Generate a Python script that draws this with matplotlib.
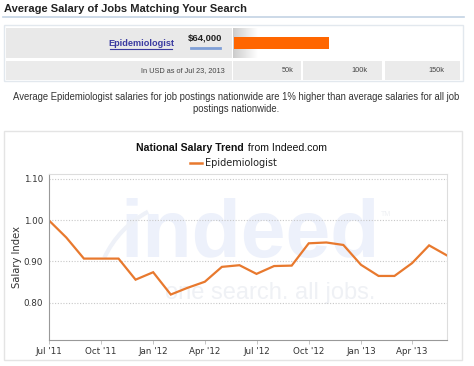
import numpy as np
import pandas as pd
import matplotlib
matplotlib.use("Agg")
import matplotlib.pyplot as plt
from matplotlib.patches import Rectangle, Arc

# data
job_title = "Epidemiologist"
salary = 64000
scale_ticks = [50000, 100000, 150000]
scale_labels = ["50k", "100k", "150k"]
months = pd.date_range("2011-07-01", periods=24, freq="MS")
salary_index = [1.000, 0.958, 0.907, 0.907, 0.907, 0.856, 0.874, 0.820,
                0.836, 0.851, 0.887, 0.891, 0.870, 0.889, 0.890, 0.944,
                0.946, 0.940, 0.892, 0.865, 0.865, 0.896, 0.939, 0.915]
tick_dates = pd.date_range("2011-07-01", periods=8, freq="3MS")
tick_labels = ["Jul '11", "Oct '11", "Jan '12", "Apr '12",
               "Jul '12", "Oct '12", "Jan '13", "Apr '13"]
y_ticks = [0.80, 0.90, 1.00, 1.10]

W, H = 474, 366
ORANGE = "#e8792e"
SANS = "Liberation Sans"


def box(x0, y0, x1, y1):
    return [x0 / W, 1 - y1 / H, (x1 - x0) / W, (y1 - y0) / H]


fig = plt.figure(figsize=(W / 100, H / 100), dpi=100)
page = fig.add_axes([0, 0, 1, 1])
page.set_xlim(0, W)
page.set_ylim(H, 0)
page.axis("off")

# header
page.text(4, 8.5, "Average Salary of Jobs Matching Your Search", fontsize=8.0,
          fontweight="bold", family=SANS, color="#222222", va="center")
page.plot([3, 464], [16.5, 16.5], color="#c3d3e4", lw=1.2)

# salary panel
page.add_patch(Rectangle((4, 25), 459, 56, fc="white", ec="#e2e8ee", lw=1))
page.add_patch(Rectangle((6, 28), 226, 30, fc="#e9e9e9", ec="none"))
page.add_patch(Rectangle((6, 61), 226, 19, fc="#ebebeb", ec="none"))
page.add_patch(Rectangle((233, 61), 68, 19, fc="#ebebeb", ec="none"))
page.add_patch(Rectangle((303, 61), 79, 19, fc="#ebebeb", ec="none"))
page.add_patch(Rectangle((385, 61), 75, 19, fc="#ebebeb", ec="none"))
grad = np.linspace(0.80, 1.0, 50)[None, :]
page.imshow(grad, cmap="gray", vmin=0, vmax=1, aspect="auto",
            extent=(233, 258, 58, 28), zorder=1)

page.text(141, 43.5, job_title, fontsize=6.6, fontweight="bold", family=SANS,
          color="#3a3aa0", ha="center", va="center")
page.plot([110, 172], [48.5, 48.5], color="#3a3aa0", lw=0.8)
page.text(205, 38.5, "${:,}".format(salary), fontsize=6.8, fontweight="bold",
          family=SANS, color="#222222", ha="center", va="center")
page.plot([191, 220], [48, 48], color="#7f9fd7", lw=2)
page.text(225, 70.5, "In USD as of Jul 23, 2013", fontsize=5.3, family=SANS,
          color="#444444", ha="right", va="center")

bar_ax = fig.add_axes(box(234, 28, 456, 58))
bar_ax.barh([0], [salary], height=0.37, color="#ff6600", left=0)
bar_ax.set_xlim(0, 150000)
bar_ax.set_ylim(-0.5, 0.5)
bar_ax.axis("off")
bar_ax.patch.set_alpha(0)
for t, lab in zip(scale_ticks, scale_labels):
    page.text(234 + t / 150000 * 222 - 14 + (2 if t == 150000 else 0),
              70.5, lab, fontsize=5.3, family=SANS, color="#444444",
              ha="right", va="center")

# description
page.text(236, 97, "Average Epidemiologist salaries for job postings nationwide "
          "are 1% higher than average salaries for all job",
          fontsize=6.85, family=SANS, color="#333333", ha="center", va="center")
page.text(236, 108.5, "postings nationwide.", fontsize=6.85, family=SANS,
          color="#333333", ha="center", va="center")

# chart frame
page.add_patch(Rectangle((4, 131), 458, 229, fc="white", ec="#e4e4e4", lw=1,
                         zorder=0.1))
page.text(244, 148, "National Salary Trend", fontsize=7.6, fontweight="bold",
          family=SANS, color="#111111", ha="right", va="center")
page.text(245.5, 148, " from Indeed.com", fontsize=7.6, family=SANS,
          color="#111111", ha="left", va="center")
page.plot([190, 202.5], [162.5, 162.5], color=ORANGE, lw=1.8)
page.text(205, 162.5, job_title, fontsize=7, color="#222222", va="center")

# watermark
page.text(250, 236, "indeed", fontsize=58, fontweight="bold", family=SANS,
          color="#edf1fb", ha="center", va="center", zorder=0.5)
page.text(270, 293, "one search. all jobs.", fontsize=17, family=SANS,
          color="#eff1f5", ha="center", va="center", zorder=0.5)
page.text(386, 214, "TM", fontsize=5, family=SANS, color="#eef0f4",
          ha="center", va="center", zorder=0.5)
page.add_patch(Arc((195, 300), 200, 200, theta1=205, theta2=242,
                   color="#eef1f8", lw=3, zorder=0.5))

# trend chart
ax = fig.add_axes(box(48.7, 174.3, 446.7, 340))
ax.patch.set_alpha(0)
ax.plot(months, salary_index, color=ORANGE, lw=1.6, solid_joinstyle="miter")
ax.set_xlim(months[0], months[-1])
ax.set_ylim(0.71, 1.111)
ax.set_yticks(y_ticks)
ax.set_yticklabels(["{:.2f}".format(v) for v in y_ticks])
ax.set_xticks(tick_dates)
ax.set_xticklabels(tick_labels)
ax.grid(axis="y", linestyle=(0, (1, 1.5)), color="#c8c8c8", lw=0.8)
for s in ["top", "right"]:
    ax.spines[s].set_color("#dddddd")
for s in ["left", "bottom"]:
    ax.spines[s].set_color("#999999")
for s in ax.spines.values():
    s.set_linewidth(0.8)
ax.tick_params(axis="y", length=0, pad=4, labelsize=6.3, labelcolor="#333333")
ax.tick_params(axis="x", length=3, width=0.6, color="#bbbbbb", pad=2,
               labelsize=6.3, labelcolor="#333333")
ax.set_ylabel("Salary Index", fontsize=7.2, color="#333333", labelpad=1.5)

fig.savefig("out.png", dpi=100)
